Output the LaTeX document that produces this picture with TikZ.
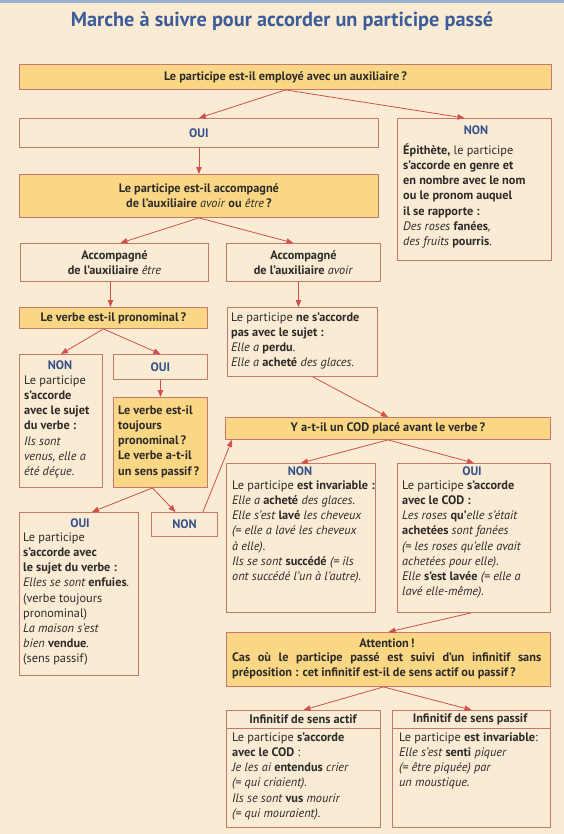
\documentclass[tikz,border=0pt]{standalone}
\usepackage{fontspec}
\setmainfont{PT Sans}
\usetikzlibrary{arrows.meta,calc}
\definecolor{bg}{HTML}{FAEBD4}
\definecolor{yel}{HTML}{F9D785}
\definecolor{bord}{HTML}{C8776C}
\definecolor{arrc}{HTML}{D2504A}
\definecolor{hblue}{HTML}{34508C}
\definecolor{titleblue}{HTML}{3D5C9A}
\definecolor{ink}{HTML}{2E2A28}
\definecolor{topline}{HTML}{9CB0D0}
\newcommand\bup[1]{\textbf{\upshape #1}}
\newcommand\bodyfont{\fontsize{12.3bp}{15.2bp}\selectfont}
\begin{document}
\begin{tikzpicture}[x=1bp,y=-1bp,
  box/.style={draw=bord, line width=0.9bp, inner sep=0, anchor=north west, font=\bodyfont\bfseries, text=ink, align=center},
  ybox/.style={box, fill=yel},
  txt/.style={anchor=north west, inner sep=0, align=left, font=\bodyfont, text=ink},
  hdr/.style={inner sep=0, font=\bodyfont\bfseries, text=hblue},
  hdrk/.style={inner sep=0, font=\bodyfont\bfseries, text=ink},
  arr/.style={draw=arrc, line width=0.8bp, -{Triangle[length=7bp,width=5.5bp]}},
]
\fill[bg] (0,0) rectangle (564,834);
\useasboundingbox (0,0) rectangle (564,834);
\fill[topline] (0,0) rectangle (564,2.5);

\node[inner sep=0, font=\fontsize{20.3bp}{23bp}\selectfont\bfseries, text=titleblue] (title) at (282,21) {Marche à suivre pour accorder un participe passé};

% boxes
\node[ybox, minimum width=532bp, minimum height=25bp] (q1) at (19,64) {Le participe est-il employé avec un auxiliaire\thinspace?};
\node[box, minimum width=359bp, minimum height=29bp, text=hblue] (ouiA) at (19,118) {OUI};
\node[box, minimum width=154bp, minimum height=142bp] (nonA) at (397,118) {};
\node[ybox, minimum width=359bp, minimum height=43bp] (q2) at (19,174) {Le participe est-il accompagné\\de l’auxiliaire \textit{\mdseries avoir} ou \textit{\mdseries être}\thinspace?};
\node[box, minimum width=188bp, minimum height=38bp] (etre) at (20,243) {Accompagné\\de l’auxiliaire \textit{\mdseries être}};
\node[box, minimum width=154bp, minimum height=38bp] (avoir) at (226,243) {Accompagné\\de l’auxiliaire \textit{\mdseries avoir}};
\node[ybox, minimum width=188bp, minimum height=21bp] (pron) at (19,307) {Le verbe est-il pronominal\thinspace?};
\node[box, minimum width=150bp, minimum height=69bp] (nesacc) at (227,307) {};
\node[box, minimum width=83bp, minimum height=133bp] (nonL) at (19,354) {};
\node[box, minimum width=94bp, minimum height=25bp, text=hblue] (ouiS) at (113,354) {OUI};
\node[ybox, minimum width=94bp, minimum height=90bp] (touj) at (113,397) {};
\node[box, minimum width=119bp, minimum height=163bp] (ouiB) at (19,512) {};
\node[box, minimum width=66bp, minimum height=24bp, text=hblue] (nonS) at (151,512) {NON};
\node[ybox, minimum width=325bp, minimum height=22bp] (cod) at (225,417) {Y a-t-il un COD placé avant le verbe\thinspace?};
\node[box, minimum width=149bp, minimum height=149bp] (nonC) at (226,463) {};
\node[box, minimum width=153bp, minimum height=149bp] (ouiC) at (397,463) {};
\node[ybox, minimum width=324bp, minimum height=54bp] (att) at (226,632) {};
\node[box, minimum width=154bp, minimum height=117bp] (actif) at (226,710) {};
\node[box, minimum width=158bp, minimum height=117bp] (passif) at (392,710) {};
\draw[draw=bord, line width=0.9bp] ($(actif.north west)+(0,18)$) coordinate (acl) -- ($(actif.north east)+(0,18)$) coordinate (acr);
\draw[draw=bord, line width=0.9bp] ($(passif.north west)+(0,18)$) coordinate (pal) -- ($(passif.north east)+(0,18)$) coordinate (par);

% headers and texts
\node[hdr] (nonAh) at (476,130) {NON};
\node[txt] (nonAt) at (403,143.4) {\strut\bup{Épithète,} le participe\\
\textbf{s’accorde en genre et}\\
\textbf{en nombre avec le nom}\\
\textbf{ou le pronom auquel}\\
\textbf{il se rapporte :}\\
\textit{Des roses \bup{fanées},}\\
\textit{des fruits \bup{pourris}.}};

\node[txt] (nesaccT) at (231,310.4) {\strut Le participe \textbf{ne s’accorde}\\
\textbf{pas avec le sujet :}\\
\textit{Elle a \bup{perdu}.}\\
\textit{Elle a \bup{acheté} des glaces.}};

\node[hdr] (nonLh) at (60,365) {NON};
\node[txt] (nonLt) at (24,373.4) {\strut Le participe\\
\textbf{s’accorde}\\
\textbf{avec le sujet}\\
\textbf{du verbe :}\\
\textit{Ils sont}\\
\textit{venus, elle a}\\
\textit{été déçue.}};

\node[txt, font=\bodyfont\bfseries] (toujT) at (118,403.4) {\strut Le verbe est-il\\
toujours\\
pronominal\thinspace?\\
Le verbe a-t-il\\
un sens passif\thinspace?};

\node[hdr] (ouiBh) at (80,523) {OUI};
\node[txt] (ouiBt) at (23,530.4) {\strut Le participe\\
\textbf{s’accorde avec}\\
\textbf{le sujet du verbe :}\\
\textit{Elles se sont \bup{enfuies}.}\\
(verbe toujours\\
pronominal)\\
\textit{La maison s’est}\\
\textit{bien \bup{vendue}.}\\
(sens passif)};

\node[hdr] (nonCh) at (300,471) {NON};
\node[txt] (nonCt) at (232,478.4) {\strut Le participe \textbf{est invariable :}\\
\textit{Elle a \bup{acheté} des glaces.}\\
\textit{Elle s'est \bup{lavé} les cheveux}\\
\textit{(= elle a lavé les cheveux}\\
\textit{à elle).}\\
\textit{Ils se sont \bup{succédé} (= ils}\\
\textit{ont succédé l'un à l'autre).}};

\node[hdr] (ouiCh) at (472,471) {OUI};
\node[txt] (ouiCt) at (402,478.4) {\strut Le participe \textbf{s’accorde}\\
\textbf{avec le COD :}\\
\textit{Les roses \bup{qu'}elle s'était}\\
\textit{\bup{achetées} sont fanées}\\
\textit{(= les roses qu'elle avait}\\
\textit{achetées pour elle).}\\
\textit{Elle \bup{s'est lavée} (= elle a}\\
\textit{lavé elle-même).}};

\node[hdrk] (attH) at (387,643) {Attention\thinspace!};
\node[txt, font=\bodyfont\bfseries, text width=309bp, align=justify] (attT) at (232,650.4) {\strut Cas où le participe passé est suivi d’un infinitif sans\linebreak préposition : cet infinitif est-il de sens actif ou passif\thinspace?};

\node[hdrk] (actifH) at (303,719) {Infinitif de sens actif};
\node[txt] (actifT) at (232,730.4) {\strut Le participe \textbf{s’accorde}\\
\textbf{avec le COD} :\\
\textit{Je les ai \bup{entendus} crier}\\
\textit{(= qui criaient).}\\
\textit{Ils se sont \bup{vus} mourir}\\
\textit{(= qui mouraient).}};

\node[hdrk] (passifH) at (470,719) {Infinitif de sens passif};
\node[txt] (passifT) at (399,730.4) {\strut Le participe \textbf{est invariable}:\\
\textit{Elle s'est \bup{senti} piquer}\\
\textit{(= être piquée) par}\\
\textit{un moustique.}};

% connectors
\draw[arr] (q1.south) -- (ouiA.north);
\draw[arr] (q1.south) -- ([xshift=-10bp]nonA.north);
\draw[arr] (ouiA.south) -- (q2.north);
\draw[arr] (q2.south) -- ([xshift=6bp]etre.north);
\draw[arr] (q2.south) -- ([xshift=-10bp]avoir.north);
\draw[arr] ([xshift=-4bp]etre.south) -- ([xshift=-3bp]pron.north);
\draw[arr] ([xshift=-5bp]avoir.south) -- ([xshift=-4bp]nesacc.north);
\draw[arr] ([xshift=-10bp]pron.south) -- (nonL.north);
\draw[arr] ([xshift=-10bp]pron.south) -- (ouiS.north);
\draw[arr] (ouiS.south) -- (touj.north);
\draw[arr] ([xshift=-8bp]touj.south) -- ([xshift=13bp]ouiB.north);
\draw[arr] ([xshift=-8bp]touj.south) -- ([xshift=-9bp]nonS.north);
\draw[arr] ([xshift=-15bp]nonS.north east) -- ([xshift=7bp]cod.south west);
\draw[arr] ([xshift=-65bp]nesacc.south east) -- (cod.north);
\draw[arr] (cod.south) -- (nonC.north);
\draw[arr] (cod.south) -- (ouiC.north);
\draw[arr] ([xshift=-3bp]ouiC.south) -- (att.north);
\draw[arr] ([xshift=-5bp]att.south) -- (actif.north);
\draw[arr] ([xshift=-5bp]att.south) -- (passif.north);
\end{tikzpicture}
\end{document}
